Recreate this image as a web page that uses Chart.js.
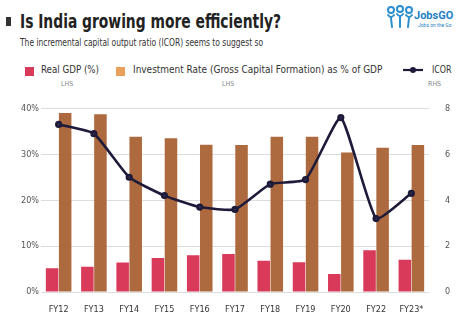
<!DOCTYPE html>
<html>
<head>
<meta charset="utf-8">
<script src="https://cdn.jsdelivr.net/npm/chart.js@4"></script>
<style>
  body { margin: 0; background: #fff; width: 474px; height: 325px; overflow: hidden; position: relative;
         font-family: "DejaVu Sans Condensed", "Liberation Sans Narrow", Roboto, sans-serif; }
  .abs { position: absolute; white-space: nowrap; transform-origin: 0 0; }
  #titleMark { left: 6px; top: 17px; width: 5px; height: 9px; background: #333; }
  #title { left: 20px; top: 9px; font-size: 20px; font-weight: bold; color: #222; }
  #subtitle { left: 20px; top: 37px; font-size: 10px; color: #333; }
  .sw { position: absolute; width: 9px; height: 9px; }
  .lg { font-size: 11px; color: #333; }
  .sub { font-size: 7px; color: #888; }
  #logoTxt { left: 414px; top: 9px; font-size: 11px; font-weight: bold; color: #1f7fc4; font-family: Roboto, sans-serif; }
  #logoSub { left: 418px; top: 22px; font-size: 5px; color: #1f7fc4; font-family: Roboto, sans-serif; }
  #chartBox { position: absolute; left: 0; top: 95px; }
</style>
</head>
<body>
<div id="titleMark" class="abs"></div>
<div id="title" class="abs" data-w="261">Is India growing more efficiently?</div>
<div id="subtitle" class="abs" data-w="243">The incremental capital output ratio (ICOR) seems to suggest so</div>

<svg class="abs" style="left:386px;top:5px" width="28" height="24" viewBox="0 0 28 24">
  <g fill="none" stroke="#2a8fd0" stroke-width="2" stroke-linecap="round">
    <circle cx="5" cy="5" r="3"/><circle cx="14" cy="4" r="3"/><circle cx="23" cy="5" r="3"/>
    <path d="M2 10 Q5 14 8 10 M5 13 L6 22"/>
    <path d="M11 9 Q14 13 17 9 M14 12 L14 22"/>
    <path d="M20 10 Q23 14 26 10 M23 13 L22 22"/>
  </g>
</svg>
<div id="logoTxt" class="abs">JobsGO</div>
<div id="logoSub" class="abs">Jobs on the Go</div>

<!-- legend -->
<div class="sw" style="left:25px;top:67px;background:#d93a5a"></div>
<div class="abs lg" style="left:41px;top:63px" data-w="58">Real GDP (%)</div>
<div class="abs sub" style="left:61px;top:80px">LHS</div>
<div class="sw" style="left:116px;top:67px;background:#e8a05c"></div>
<div class="abs lg" style="left:133px;top:63px" data-w="249">Investment Rate (Gross Capital Formation) as % of GDP</div>
<div class="abs sub" style="left:222px;top:80px">LHS</div>
<svg class="abs" style="left:403px;top:66px" width="20" height="8">
  <line x1="0" y1="4" x2="20" y2="4" stroke="#1e1b3a" stroke-width="2.2"/>
  <circle cx="10" cy="4" r="3" fill="#1e1b3a"/>
</svg>
<div class="abs lg" style="left:432px;top:63px" data-w="20">ICOR</div>
<div class="abs sub" style="left:428px;top:80px">RHS</div>

<div id="chartBox"><canvas id="c" width="474" height="230"></canvas></div>

<script>
const categories = ['FY12', 'FY13', 'FY14', 'FY15', 'FY16', 'FY17', 'FY18', 'FY19', 'FY20', 'FY22', 'FY23*'];
const realGdp = [5.2, 5.5, 6.4, 7.4, 8.0, 8.3, 6.8, 6.5, 3.9, 9.1, 7.0];
const investmentRate = [39.0, 38.7, 33.8, 33.5, 32.1, 32.0, 33.8, 33.8, 30.4, 31.4, 32.0];
const icor = [7.3, 6.9, 5.0, 4.2, 3.7, 3.6, 4.7, 4.9, 7.6, 3.2, 4.3];
const leftTicks = [0, 10, 20, 30, 40];
const rightTicks = [0, 2, 4, 6, 8];

// squeeze header texts to the widths measured on the reference
document.querySelectorAll('[data-w]').forEach(el => {
    const w = +el.dataset.w;
    el.style.transform = 'scaleX(' + (w / el.scrollWidth) + ')';
});

const FONT = '"DejaVu Sans Condensed", "Liberation Sans Narrow", Roboto, sans-serif';

new Chart(document.getElementById('c'), {
    data: {
        labels: categories,
        datasets: [
            {
                type: 'line', label: 'ICOR', data: icor, yAxisID: 'y1', order: 0,
                borderColor: '#1e1b3a', backgroundColor: '#1e1b3a', borderWidth: 2.6,
                pointRadius: 2.3, pointBackgroundColor: '#3a2f55', tension: 0.15
            },
            {
                type: 'bar', label: 'Real GDP (%)', data: realGdp, yAxisID: 'y', order: 1,
                backgroundColor: '#d93a5a', categoryPercentage: 0.74, barPercentage: 0.96
            },
            {
                type: 'bar', label: 'Investment Rate', data: investmentRate, yAxisID: 'y', order: 1,
                backgroundColor: '#ad6a3e', categoryPercentage: 0.74, barPercentage: 0.96
            }
        ]
    },
    options: {
        responsive: false,
        animation: false,
        layout: { padding: { top: 13, left: 0, right: 0, bottom: 0 } },
        plugins: { legend: { display: false }, tooltip: { enabled: false } },
        scales: {
            x: {
                grid: { display: false }, border: { display: false },
                ticks: { color: '#333', font: { family: FONT, size: 9 }, padding: 4 },
                afterFit: s => { s.height = 33; }
            },
            y: {
                position: 'left', min: 0, max: 40,
                afterBuildTicks: s => { s.ticks = leftTicks.map(v => ({ value: v })); },
                grid: { color: '#dcdcdc', drawTicks: false }, border: { display: false },
                ticks: { color: '#555', font: { family: FONT, size: 9 }, padding: 2, callback: v => v + '%' },
                afterFit: s => { s.width = 41; }
            },
            y1: {
                position: 'right', min: 0, max: 8,
                afterBuildTicks: s => { s.ticks = rightTicks.map(v => ({ value: v })); },
                grid: { display: false }, border: { display: false },
                ticks: { color: '#555', font: { family: FONT, size: 9 }, padding: 8 },
                afterFit: s => { s.width = 45; }
            }
        }
    }
});
</script>
</body>
</html>
